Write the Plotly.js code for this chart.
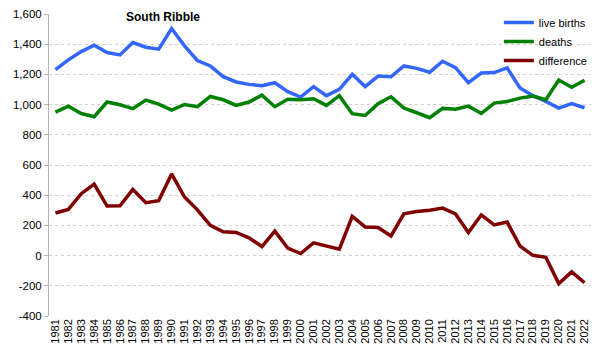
<!DOCTYPE html>
<html>
<head>
<meta charset="utf-8">
<script src="https://cdn.plot.ly/plotly-3.0.1.min.js"></script>
<style>
  html, body { margin: 0; padding: 0; background: #fff; }
  #plotlyDiv { width: 600px; height: 359px; }
</style>
</head>
<body>
<div id="plotlyDiv"></div>
<script>
var years = [];
for (var y = 1981; y <= 2022; y++) years.push(y);

var liveBirths = [1232, 1296, 1351, 1393, 1345, 1329, 1411, 1380, 1367, 1504,
    1389, 1292, 1256, 1185, 1150, 1134, 1125, 1145, 1086, 1050,
    1119, 1059, 1101, 1201, 1119, 1189, 1184, 1256, 1240, 1214,
    1287, 1245, 1145, 1209, 1212, 1243, 1110, 1059, 1021, 977,
    1007, 979];

var deaths = [950, 990, 941, 920, 1017, 999, 973, 1030, 1003, 963,
    1001, 986, 1054, 1032, 995, 1017, 1063, 986, 1035, 1032,
    1039, 995, 1059, 940, 928, 1006, 1052, 977, 946, 913,
    975, 970, 990, 941, 1010, 1021, 1043, 1057, 1032, 1163,
    1115, 1161];

var difference = [282, 306, 410, 473, 328, 330, 438, 350, 364, 541,
    388, 303, 200, 158, 153, 118, 60, 162, 50, 14,
    84, 62, 42, 260, 190, 186, 130, 277, 292, 300,
    315, 276, 153, 269, 203, 222, 63, 2, -11, -185,
    -108, -180];

var yTicks = [-400, -200, 0, 200, 400, 600, 800, 1000, 1200, 1400, 1600];
var yTickText = ['-400', '-200', '0', '200', '400', '600', '800', '1,000', '1,200', '1,400', '1,600'];

function plotly_births_deaths() {

    var trace1 = {
        type: 'scatter', mode: 'lines', name: 'live births',
        x: years, y: liveBirths,
        line: {color: '#3366ff', width: 3.5}
    };
    var trace2 = {
        type: 'scatter', mode: 'lines', name: 'deaths',
        x: years, y: deaths,
        line: {color: '#008000', width: 3.5}
    };
    var trace3 = {
        type: 'scatter', mode: 'lines', name: 'difference',
        x: years, y: difference,
        line: {color: '#800000', width: 3.5}
    };

    var data = [trace1, trace2, trace3];

    // axis line with ticks crossing at zero (Excel style), drawn by two overlay axes
    var zeroAxis = {
        overlaying: 'x', anchor: 'free', position: 0.2,
        range: [1980.5, 2022.5], tick0: 1980.5, dtick: 1,
        showticklabels: false, showgrid: false, zeroline: false,
        showline: true, linecolor: '#b4b4b4', linewidth: 2,
        ticklen: 3, tickcolor: '#b4b4b4', tickwidth: 1
    };

    var layout = {
        width: 600, height: 359,
        margin: {l: 49, r: 7, t: 14, b: 43},
        paper_bgcolor: '#ffffff',
        plot_bgcolor: '#ffffff',
        font: {family: 'Liberation Sans, Arial, sans-serif', size: 11, color: '#000'},
        showlegend: true,
        legend: {
            x: 0.83, y: 1.02, xanchor: 'left', yanchor: 'top',
            bgcolor: 'rgba(0,0,0,0)', font: {size: 11},
            itemwidth: 30, tracegroupgap: 0
        },
        xaxis: {
            range: [1980.5, 2022.5], tickmode: 'linear', tick0: 1981, dtick: 1,
            tickangle: -90, ticks: '', showgrid: false, zeroline: false,
            showline: false, tickfont: {size: 11}
        },
        xaxis2: Object.assign({}, zeroAxis, {ticks: 'outside'}),
        xaxis3: Object.assign({}, zeroAxis, {ticks: 'inside'}),
        yaxis: {
            range: [-400, 1600], tickvals: yTicks, ticktext: yTickText,
            showgrid: true, gridcolor: '#d0d0d0', griddash: 'dot', gridwidth: 1,
            zeroline: false, showline: true, linecolor: '#b4b4b4', linewidth: 1,
            ticks: 'outside', ticklen: 4, tickcolor: '#b4b4b4',
            tickfont: {size: 11.5}
        },
        annotations: [{
            text: '<b>South Ribble</b>', xref: 'paper', yref: 'paper',
            x: 0.211, y: 0.99, xanchor: 'center', yanchor: 'middle',
            showarrow: false, font: {size: 12}
        }]
    };

    Plotly.newPlot('plotlyDiv', data, layout, {displayModeBar: false});
}

plotly_births_deaths();
</script>
</body>
</html>
